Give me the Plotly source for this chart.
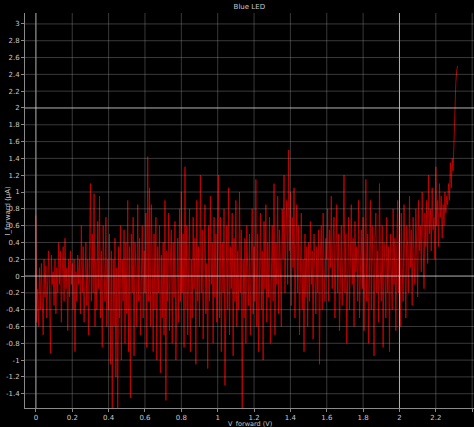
import numpy as np
import plotly.graph_objects as go

V_START = 0.0
V_STOP = 2.32

I_FWD = [
    0.72, -0.55, -0.15, -0.6, 0.1, -0.4, 0.15, -0.3, -0.7, 0.2, -0.25, 0.12, -0.5, -0.05, 0.3, -0.2, -0.92, 0.25, -0.1, 0.05,
    -0.35, 0.2, -0.45, 0.1, -0.2, 0.4, -0.1, 0.3, -0.55, 0.05, 0.35, -0.3, 0.45, -0.15, 0.1, -0.65, 0.2, -0.25, 0.3, -0.1,
    0.15, -0.4, 0.2, -0.9, 0.05, -0.3, 0.25, -0.1, 0.2, -0.45, 0.6, -0.2, 0.35, -0.55, 0.1, 0.4, -0.35, 0.2, -0.7, 0.3,
    1.1, -0.3, 0.5, -0.2, 0.98, -0.6, 0.2, -0.4, 0.65, -0.15, 0.95, -0.5, 0.3, -0.85, 0.6, 0.1, -0.3, 0.7, -0.6, 0.2,
    -0.4, 0.5, -1.05, 0.3, -1.6, 0.2, -0.6, 0.45, -1.2, 0.1, -1.62, 0.35, -0.5, 0.6, -1.0, 0.2, -0.3, 0.55, -0.8, 0.4,
    -0.45, 0.9, -0.9, 0.35, -1.45, 0.5, -0.2, 0.7, -0.95, 0.4, 0.1, -0.6, 0.85, -0.3, 0.45, -0.7, 0.2, 0.6, -0.5, 0.3,
    -0.2, 0.75, -0.85, 1.42, -0.3, 1.05, -0.6, 0.85, 0.2, -0.9, 0.5, -0.4, 0.7, -1.0, 0.35, -0.2, 0.6, -1.15, 0.25, -0.5,
    0.4, -0.7, 0.9, -1.48, 0.3, -0.3, 0.75, -0.65, 0.2, 0.55, -0.8, 0.4, -0.25, 0.65, -1.0, 0.15, 0.45, -0.55, 0.8, -0.3,
    1.0, -0.2, 0.5, -0.85, 1.3, -0.4, 0.6, -0.7, 0.3, 0.8, -0.9, 0.2, -0.5, 0.7, -0.15, 0.45, -1.05, 0.9, -0.3, 0.35,
    -0.6, 1.2, -0.2, 0.55, -0.75, 0.3, 0.85, -0.45, 0.15, -1.1, 0.6, -0.3, 0.95, -0.1, 0.4, -0.8, 0.7, -0.25, 0.5, -0.55,
    0.3, 1.2, -0.5, 0.7, -0.9, 0.4, -0.2, 0.8, -1.3, 0.25, 0.6, -0.4, 1.05, -0.7, 0.35, -0.15, 0.75, -0.95, 0.45, -0.3,
    0.9, -0.6, 0.3, -0.4, 1.0, -0.2, 0.55, -1.62, 0.2, -0.5, 0.45, -0.8, 0.6, 0.1, -0.35, 0.5, -0.7, 0.25, 0.8, -0.45,
    0.35, -0.3, 1.15, -0.6, 0.5, -0.9, 0.2, 0.75, -0.4, 0.3, -1.0, 0.65, -0.15, 0.85, -0.55, 0.4, -0.25, 0.7, -0.8, 0.3,
    0.6, -0.3, 1.1, -0.7, 0.4, -0.1, 0.95, -0.45, 0.55, 0.1, -0.6, 0.8, 0.2, 1.2, -0.2, 0.5, 0.9, -0.1, 1.5, 0.3,
    1.0, -0.35, 0.7, 0.1, 1.05, -0.5, 0.45, 0.85, -0.2, 0.6, -0.7, 0.3, 0.75, -0.4, 0.2, -0.9, 0.5, -0.25, 0.35, -0.6,
    0.4, -0.3, 0.65, -0.1, 0.3, -0.75, 0.5, 0.05, -0.45, 0.35, -0.2, 0.55, -1.05, 0.25, 0.6, -0.4, 0.75, 0.1, -0.3, 0.45,
    0.2, 0.8, -0.3, 0.55, 0.1, 0.95, -0.15, 0.4, 0.7, -0.5, 0.3, 0.85, -0.2, 0.5, -0.65, 0.25, 0.6, -0.35, 0.45, 1.2,
    -0.2, 0.5, -0.8, 0.3, 0.7, -0.4, 0.2, 0.85, -0.1, 0.45, -0.6, 0.65, 0.05, 0.35, -0.3, 0.9, -0.5, 0.25, 0.55, -0.15,
    0.7, -0.65, 0.35, 1.15, -0.3, 0.5, -0.8, 0.2, 0.9, -0.4, 0.6, 0.1, -0.95, 0.45, 0.75, -0.2, 0.3, -0.55, 1.1, 0.05,
    -0.3, 0.6, -0.85, 0.4, 0.15, -0.5, 0.7, -0.2, 0.35, -0.9, 0.5, 0.1, -0.4, 0.8, -0.1, 0.45, -0.65, 0.3, 0.9, -0.2,
    0.5, -0.6, 0.75, 0.1, -0.3, 0.85, 0.2, -0.5, 0.6, 0.35, -0.2, 0.95, 0.1, 0.55, -0.35, 0.7, 0.25, -0.1, 0.8, 0.4,
    -0.25, 0.9, 0.3, 0.6, 0.05, 1.0, 0.45, -0.15, 0.75, 0.35, 0.9, 0.15, 1.2, 0.5, 0.8, 0.3, 1.05, 0.55, 0.7, 0.2,
    1.3, 0.6, 0.9, 0.35, 1.1, 0.7, 0.95, 0.45, 0.85, 0.6, 1.0, 0.75, 0.95, 0.85, 1.1, 0.9, 1.35, 1.05, 1.4, 1.25,
    1.6, 2.0, 2.3, 2.45, 2.5,
]

V_FWD = np.linspace(V_START, V_STOP, len(I_FWD))

X_TICKS = [0, 0.2, 0.4, 0.6, 0.8, 1, 1.2, 1.4, 1.6, 1.8, 2, 2.2, 2.4]
X_LABELS = ["0", "0.2", "0.4", "0.6", "0.8", "1", "1.2", "1.4", "1.6", "1.8", "2", "2.2", "2.4"]
Y_TICKS = [-1.4, -1.2, -1, -0.8, -0.6, -0.4, -0.2, 0, 0.2, 0.4, 0.6, 0.8, 1, 1.2, 1.4, 1.6, 1.8, 2, 2.2, 2.4, 2.6, 2.8, 3]
Y_LABELS = ["-1.4", "-1.2", "-1", "-0.8", "-0.6", "-0.4", "-0.2", "0", "0.2", "0.4", "0.6", "0.8", "1", "1.2", "1.4",
            "1.6", "1.8", "2", "2.2", "2.4", "2.6", "2.8", "3"]
MAJOR = [0, 2]

TITLE = "Blue LED"
X_TITLE = "V_forward (V)"
Y_TITLE = "I_forward (µA)"

GRID = "rgba(150,150,150,0.38)"
BRIGHT = "rgba(210,210,210,0.85)"
TEXT = "#c8c8c8"
FONT = "DejaVu Sans"

fig = go.Figure()
fig.add_trace(go.Scatter(x=V_FWD, y=I_FWD, mode="lines",
                         line=dict(color="#c40000", width=0.9), showlegend=False))

# grid drawn over the data, as in the reference
for t in X_TICKS:
    fig.add_shape(type="line", xref="x", yref="paper", x0=t, x1=t, y0=0, y1=1, layer="above",
                  line=dict(color=BRIGHT if t in MAJOR else GRID, width=1))
for t in Y_TICKS:
    fig.add_shape(type="line", xref="paper", yref="y", x0=0, x1=1, y0=t, y1=t, layer="above",
                  line=dict(color=BRIGHT if t in MAJOR else GRID, width=1))

fig.add_annotation(text=X_TITLE, xref="paper", yref="paper", x=0.5, y=0, yshift=-9.5,
                   xanchor="center", yanchor="top", showarrow=False,
                   font=dict(family=FONT, size=6.5, color=TEXT))
fig.add_annotation(text=Y_TITLE, xref="paper", yref="paper", x=0, y=0.5, xshift=-18,
                   xanchor="center", yanchor="middle", textangle=-90, showarrow=False,
                   font=dict(family=FONT, size=7, color=TEXT))

axis_common = dict(
    showgrid=False,
    zeroline=False, automargin=False,
    showline=True, linecolor="#8a8a8a", linewidth=1,
    ticks="outside", ticklen=3, tickcolor="#8a8a8a",
    tickfont=dict(family=FONT, size=7, color=TEXT),
)

fig.update_layout(
    width=474, height=427,
    paper_bgcolor="black", plot_bgcolor="black",
    margin=dict(l=25, r=0, t=13, b=19, autoexpand=False),
    font=dict(family=FONT, size=7, color=TEXT),
    title=dict(text=TITLE, x=0.526, xanchor="center", y=0.99, yanchor="top",
               font=dict(family=FONT, size=7, color=TEXT)),
    xaxis=dict(range=[-0.06, 2.41], tickvals=X_TICKS, ticktext=X_LABELS, **axis_common),
    yaxis=dict(range=[-1.57, 3.13], tickvals=Y_TICKS, ticktext=Y_LABELS, **axis_common),
)

fig.write_html("out.html",
               config={"displayModeBar": False},
               post_script="document.body.style.margin='0';document.body.style.overflow='hidden';"
                           "document.body.style.background='black';")
